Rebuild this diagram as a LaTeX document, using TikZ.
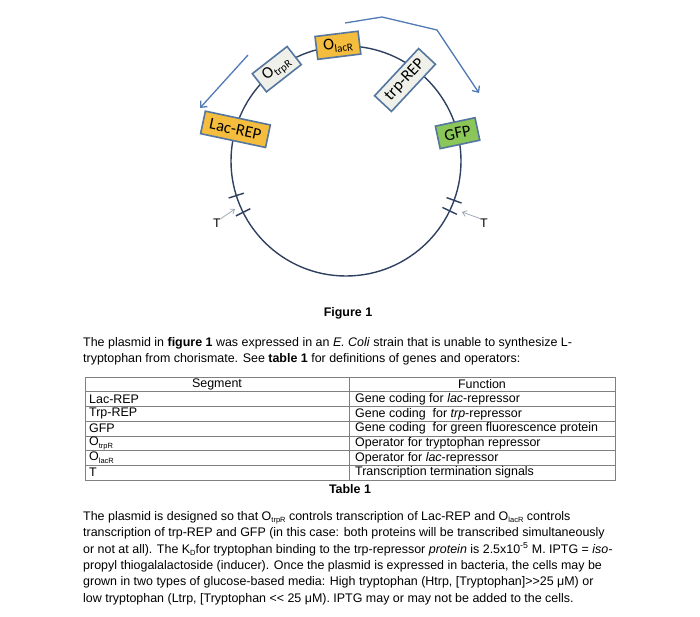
\documentclass[tikz,border=0pt]{standalone}
\usepackage{fontspec}
\setmainfont{Liberation Sans}
\newfontfamily\boxfont{Carlito}
\usepackage{xcolor}
\usepackage{tikz}
\usetikzlibrary{arrows.meta,calc}

\definecolor{gold}{RGB}{244,189,62}
\definecolor{pale}{RGB}{240,240,234}
\definecolor{leaf}{RGB}{138,199,88}
\definecolor{edgeblue}{RGB}{84,118,160}
\definecolor{ringblue}{RGB}{48,64,96}
\definecolor{flowblue}{RGB}{82,122,180}
\definecolor{pointgrey}{RGB}{150,160,176}
\definecolor{rulegrey}{RGB}{128,128,128}

\newcommand{\subs}[1]{\raisebox{-0.4ex}{\fontsize{7.5}{7.5}\selectfont #1}}
\newcommand{\boxsub}[1]{\raisebox{-0.45ex}{\fontsize{11}{11}\selectfont #1}}

\begin{document}
\begin{tikzpicture}[x=1pt, y=1pt, >={Straight Barb[length=5pt,width=9pt]},
	seg/.style={draw=edgeblue, line width=1.6pt, inner xsep=7pt, inner ysep=3pt, minimum height=23pt, font=\boxfont\fontsize{16.5}{16.5}\selectfont},
	plasmid/.style={draw=ringblue, line width=1.4pt},
	flow/.style={draw=flowblue, line width=1.3pt},
	pointer/.style={draw=pointgrey, line width=0.7pt, -{Straight Barb[length=4pt,width=6pt]}},
	grid/.style={draw=rulegrey, line width=0.6pt},
	txt/.style={font=\fontsize{12.45}{16.4}\selectfont, inner sep=0pt}]

\useasboundingbox (0,0) rectangle (700,-616);

\coordinate (c) at (346,-161);
\draw[plasmid] (c) circle (115);

\foreach \a in {197.5,206.5,-20,-25.7}
{
	\draw[plasmid] ($(c)+(\a:107)$) -- ($(c)+(\a:123)$);
}

\node (olac) at ($(c)+(94:116)$) [seg, fill=gold, rotate=7] {O\boxsub{lacR}};
\node (otrp) at ($(c)+(127:115)$) [seg, fill=pale, rotate=38] {O\boxsub{trpR}};
\node (trprep) at (405,-80) [seg, fill=pale, rotate=47] {trp-REP};
\node (lacrep) at ($(c)+(164:115)$) [seg, fill=gold, rotate=-12] {Lac-REP};
\node (gfp) at ($(c)+(14:115)$) [seg, fill=leaf, rotate=12] {GFP};

\coordinate (la1) at (248,-55);
\coordinate (la2) at (200,-108);
\draw[flow,->] (la1) -- (la2);

\coordinate (ra1) at (345,-23);
\coordinate (ra2) at (382,-17);
\coordinate (ra3) at (437,-30);
\coordinate (ra4) at (479,-93);
\draw[flow,->] (ra1) -- (ra2) -- (ra3) -- (ra4);

\node (tl) at (217,-223) [txt] {T};
\node (tr) at (484,-223) [txt] {T};
\coordinate (tlend) at (235,-209);
\coordinate (trend) at (462,-212);
\draw[pointer] (tl.north east) -- (tlend);
\draw[pointer] (tr.north west) -- (trend);

\node (fig) at (348,-313) [txt, font=\fontsize{12.45}{16.4}\selectfont\bfseries] {Figure 1};

\node (intro) at (83,-337) [txt, anchor=north west, align=left] {The plasmid in \textbf{figure 1} was expressed in an \textit{E. Coli} strain that is unable to synthesize L-\\
tryptophan from chorismate. See \textbf{table 1} for definitions of genes and operators:};

\draw[grid] (85,-377) rectangle (615,-480);
\draw[grid] (349,-377) -- (349,-480);
\foreach \i in {1,...,6}
{
	\draw[grid] (85,-377-14.71*\i) -- (615,-377-14.71*\i);
}

\node (seghead) at (217,-384.4) [txt] {Segment};
\node (funhead) at (482,-384.4) [txt] {Function};

\foreach \s/\f [count=\i] in {Lac-REP/Gene coding for \textit{lac}-repressor,
	Trp-REP/Gene coding\ \ for \textit{trp}-repressor,
	GFP/Gene coding\ \ for green fluorescence protein,
	O\subs{trpR}/Operator for tryptophan repressor,
	O\subs{lacR}/Operator for \textit{lac}-repressor,
	T/Transcription termination signals}
{
	\node (seg\i) at (89,-384.4-14.71*\i) [txt, anchor=west] {\s};
	\node (fun\i) at (355,-384.4-14.71*\i) [txt, anchor=west] {\f};
}

\node (tab) at (350,-489) [txt, font=\fontsize{12.45}{16.4}\selectfont\bfseries] {Table 1};

\node (design) at (83,-511) [txt, anchor=north west, align=left] {The plasmid is designed so that O\subs{trpR} controls transcription of Lac-REP and O\subs{lacR} controls\\
transcription of trp-REP and GFP (in this case: both proteins will be transcribed simultaneously\\
or not at all). The K\subs{D}for tryptophan binding to the trp-repressor \textit{protein} is 2.5x10\textsuperscript{-5} M. IPTG = \textit{iso-}\\
propyl thiogalalactoside (inducer). Once the plasmid is expressed in bacteria, the cells may be\\
grown in two types of glucose-based media: High tryptophan (Htrp, [Tryptophan]>{}>25 μM) or\\
low tryptophan (Ltrp, [Tryptophan <{}< 25 μM). IPTG may or may not be added to the cells.};

\end{tikzpicture}
\end{document}
